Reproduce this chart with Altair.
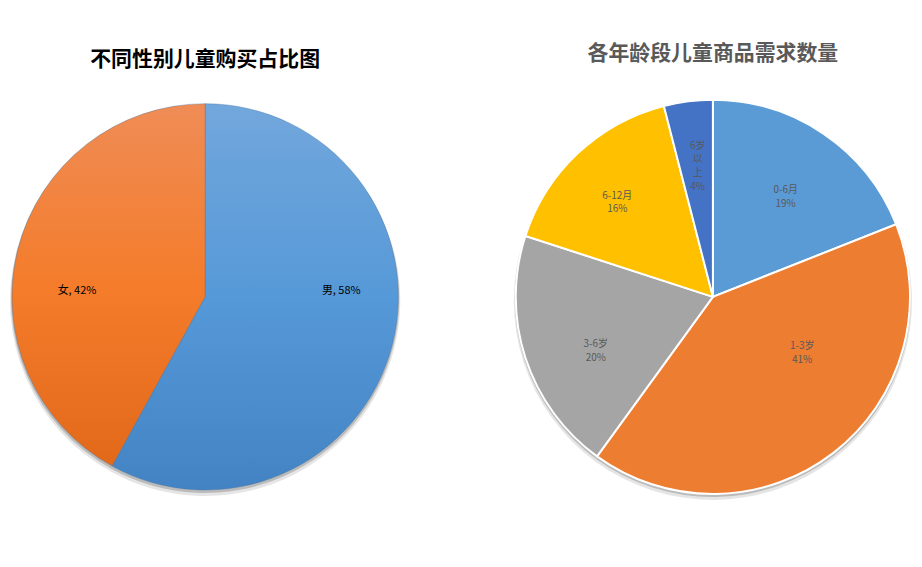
import altair as alt
import pandas as pd

# ---- data ----
genders = ["男", "女"]
gender_share = [58, 42]

ages = ["0-6月", "1-3岁", "3-6岁", "6-12月", "6岁以上"]
age_share = [19, 41, 20, 16, 4]
age_label_text = ["0-6月", "1-3岁", "3-6岁", "6-12月", "6岁\n以\n上"]
age_colors = ["#5B9BD5", "#ED7D31", "#A5A5A5", "#FFC000", "#4472C4"]

FONT = "Noto Sans CJK SC"

df_g = pd.DataFrame({
    "cat": genders,
    "share": gender_share,
    "idx": list(range(len(genders))),
})
df_g["label"] = [f"{g}, {v}%" for g, v in zip(genders, gender_share)]

df_a = pd.DataFrame({
    "cat": ages,
    "share": age_share,
    "idx": list(range(len(ages))),
})
df_a["label"] = [f"{t}\n{v}%" for t, v in zip(age_label_text, age_share)]

W, H = 396, 440
R_L, R_R = 194, 198
TOTAL_G = sum(gender_share)
TOTAL_A = sum(age_share)

blue_grad = alt.LinearGradient(
    gradient="linear", x1=0, x2=0, y1=0, y2=1,
    stops=[alt.GradientStop(color="#72A7DC", offset=0),
           alt.GradientStop(color="#5699D8", offset=0.5),
           alt.GradientStop(color="#4383C3", offset=1)])
orange_grad = alt.LinearGradient(
    gradient="linear", x1=0, x2=0, y1=0, y2=1,
    stops=[alt.GradientStop(color="#EF8C56", offset=0),
           alt.GradientStop(color="#F47C2B", offset=0.5),
           alt.GradientStop(color="#E2691A", offset=1)])


def arcs_base(df, total):
    return alt.Chart(df).encode(
        theta=alt.Theta("share:Q", stack=True, scale=alt.Scale(domain=[0, total])),
        order=alt.Order("idx:Q"),
        detail="cat:N",
    )


def label_layer(df, total, cat, radius, dx, dy, **text_kw):
    """Label placed at the slice's mid angle (computed before filtering)."""
    return alt.Chart(df).transform_window(
        cum="sum(share)", sort=[alt.SortField("idx")], frame=[None, 0]
    ).transform_calculate(
        mid="datum.cum - datum.share / 2"
    ).transform_filter(
        alt.datum.cat == cat
    ).mark_text(radius=radius, dx=dx, dy=dy, font=FONT, **text_kw).encode(
        theta=alt.Theta("mid:Q", stack=None, scale=alt.Scale(domain=[0, total])),
        text="label:N",
    )


# ---- left pie ----
base_g = arcs_base(df_g, TOTAL_G)
shadow_g1 = base_g.mark_arc(radius=R_L + 2, yOffset=4, fill="#000000", opacity=0.10)
shadow_g2 = base_g.mark_arc(radius=R_L + 1, yOffset=2, fill="#000000", opacity=0.18)
pie_g = base_g.mark_arc(radius=R_L, stroke="#3E6E9E", strokeWidth=0.6, strokeOpacity=0.6).encode(
    color=alt.condition(alt.datum.cat == "男", alt.value(blue_grad), alt.value(orange_grad))
)
lbl_style_g = dict(fontSize=11, color="#000000")
text_g_m = label_layer(df_g, TOTAL_G, "男", 136, 5, -40, **lbl_style_g)
text_g_f = label_layer(df_g, TOTAL_G, "女", 136, 3, 28, **lbl_style_g)
left = alt.layer(shadow_g1, shadow_g2, pie_g, text_g_m, text_g_f).properties(
    width=W, height=H,
    title=alt.TitleParams("不同性别儿童购买占比图", font=FONT, fontSize=21, fontWeight="bold",
                          color="#000000", anchor="middle", offset=12, dy=4),
)

# ---- right pie ----
base_a = arcs_base(df_a, TOTAL_A)
shadow_a1 = base_a.mark_arc(radius=R_R + 2, yOffset=4, fill="#000000", opacity=0.10)
shadow_a2 = base_a.mark_arc(radius=R_R + 1, yOffset=2, fill="#000000", opacity=0.18)
pie_a = base_a.mark_arc(radius=R_R, stroke="#FFFFFF", strokeWidth=2).encode(
    color=alt.Color("cat:N", scale=alt.Scale(domain=ages, range=age_colors), legend=None)
)
lbl_style_a = dict(fontSize=10, color="#595959", lineBreak="\n", lineHeight=14)
label_offsets = {
    "0-6月": (0, 0),
    "1-3岁": (10, -53),
    "3-6岁": (6, 7),
    "6-12月": (-7, -7),
    "6岁以上": (1, -23),
}
text_a = [label_layer(df_a, TOTAL_A, c, 130, dx, dy, **lbl_style_a)
          for c, (dx, dy) in label_offsets.items()]
right = alt.layer(shadow_a1, shadow_a2, pie_a, *text_a).properties(
    width=W, height=H,
    title=alt.TitleParams("各年龄段儿童商品需求数量", font=FONT, fontSize=21, fontWeight="bold",
                          color="#595959", anchor="middle", offset=12, dy=-2),
)

chart = alt.hconcat(left, right, spacing=110).properties(
    padding={"left": 0, "top": 34, "right": 0, "bottom": 0},
    background="#FFFFFF",
).configure_view(stroke=None)

chart.save("out.html", embed_options={"renderer": "svg", "actions": False})
